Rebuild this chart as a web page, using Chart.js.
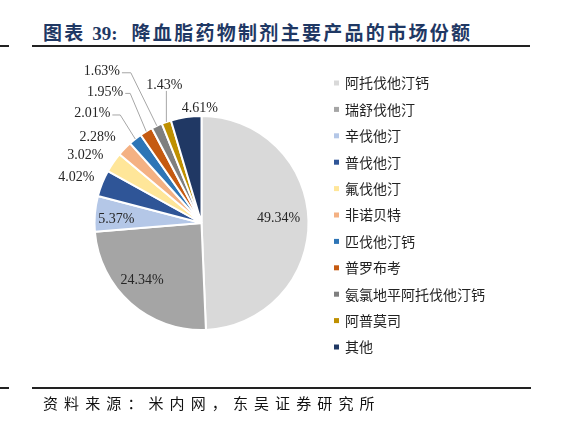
<!DOCTYPE html>
<html>
<head>
<meta charset="utf-8">
<script src="https://cdn.jsdelivr.net/npm/chart.js@4/dist/chart.umd.min.js"></script>
<style>
  body { margin: 0; background: #fff; width: 585px; height: 435px; position: relative; overflow: hidden; }
  #title { position: absolute; left: 43px; top: 18px; font: bold 19px "Noto Sans CJK SC", serif; color: #1f3864; letter-spacing: 2.3px; white-space: nowrap; }
  #title .num { font-family: "Liberation Serif", serif; letter-spacing: 0; margin-right: 14px; }
  .rule { position: absolute; height: 2px; background: #222; }
  #source { position: absolute; left: 43px; top: 392px; font: 15px "Noto Sans CJK SC", sans-serif; color: #111; letter-spacing: 6.1px; white-space: nowrap; }
  #wrap { position: absolute; left: 0; top: 0; width: 585px; height: 435px; }
</style>
</head>
<body>
<div id="title">图表 <span class="num">39:</span>降血脂药物制剂主要产品的市场份额</div>
<div class="rule" style="left:0;top:45px;width:9px"></div>
<div class="rule" style="left:32px;top:45px;width:498px"></div>
<div class="rule" style="left:0;top:387px;width:9px"></div>
<div class="rule" style="left:32px;top:387px;width:499px"></div>
<div id="wrap"><canvas id="myChart"></canvas></div>
<div id="source">资料来源：米内网，东吴证券研究所</div>
<script>
const products = ['阿托伐他汀钙', '瑞舒伐他汀', '辛伐他汀', '普伐他汀', '氟伐他汀', '非诺贝特',
  '匹伐他汀钙', '普罗布考', '氨氯地平阿托伐他汀钙', '阿普莫司', '其他'];
const shares = [49.34, 24.34, 5.37, 4.02, 3.02, 2.28, 2.01, 1.95, 1.63, 1.43, 4.61];
const colors = ['#d9d9d9', '#a5a5a5', '#b4c7e7', '#2f5597', '#ffe699', '#f4b183',
  '#2e75b6', '#c55a11', '#7f7f7f', '#bf9000', '#203864'];

// label placement: rf = radius factor of anchor, dx/dy = text offset from anchor,
// elbow = leader line bend relative to anchor (none = no leader)
const labelStyle = [
  { rf: 0.72, dx: 0, dy: -3 },
  { rf: 0.77, dx: -5, dy: -4 },
  { rf: 0.8, dx: 0, dy: 4 },
  { rf: 1.26, dx: 0, dy: 4 },
  { rf: 1.26, dx: -5, dy: 9 },
  { rf: 1.26, dx: -7, dy: 8 },
  { rf: 1.0, dx: -43, dy: -26, elbow: [-15, -24] },
  { rf: 1.0, dx: -41, dy: -39, elbow: [-16, -38] },
  { rf: 1.0, dx: -55, dy: -54, elbow: [-26, -53] },
  { rf: 1.0, dx: -2, dy: -37, elbow: [0, -31], vertical: true },
  { rf: 1.08, dx: 15, dy: 0 }
];

const pieLabels = {
  id: 'pieLabels',
  afterDatasetsDraw(chart) {
    const c = chart.ctx;
    const arcs = chart.getDatasetMeta(0).data;
    c.save();
    c.font = '14px "Liberation Serif", serif';
    c.textAlign = 'center';
    c.textBaseline = 'middle';
    arcs.forEach((arc, i) => {
      const p = arc.getProps(['x', 'y', 'startAngle', 'endAngle', 'outerRadius'], true);
      const mid = (p.startAngle + p.endAngle) / 2;
      const s = labelStyle[i];
      const ax = p.x + Math.cos(mid) * p.outerRadius * s.rf;
      const ay = p.y + Math.sin(mid) * p.outerRadius * s.rf;
      const tx = ax + s.dx, ty = ay + s.dy;
      const txt = shares[i].toFixed(2) + '%';
      if (s.elbow) {
        const w = c.measureText(txt).width;
        c.strokeStyle = '#a6a6a6';
        c.lineWidth = 1;
        c.beginPath();
        c.moveTo(ax, ay);
        c.lineTo(ax + s.elbow[0], ay + s.elbow[1]);
        if (!s.vertical) c.lineTo(tx + w / 2 + 2, ay + s.elbow[1]);
        c.stroke();
      }
      c.fillStyle = '#262626';
      c.fillText(txt, tx, ty);
    });
    c.restore();
  }
};

const sideLegend = {
  id: 'sideLegend',
  afterDraw(chart) {
    const c = chart.ctx;
    c.save();
    c.font = '14px "Noto Sans CJK SC", sans-serif';
    c.textBaseline = 'middle';
    c.textAlign = 'left';
    products.forEach((name, i) => {
      const y = 83 + i * 26.4;
      c.fillStyle = colors[i];
      c.fillRect(334, y - 2.5, 5, 5);
      c.fillStyle = '#222';
      c.fillText(name, 345, y);
    });
    c.restore();
  }
};

new Chart(document.getElementById('myChart'), {
  type: 'pie',
  data: {
    labels: products,
    datasets: [{
      data: shares,
      backgroundColor: colors,
      borderColor: '#ffffff',
      borderWidth: 2
    }]
  },
  options: {
    responsive: true,
    maintainAspectRatio: false,
    animation: false,
    layout: { padding: { left: 93, right: 275, top: 115, bottom: 104 } },
    plugins: {
      legend: { display: false },
      tooltip: { enabled: false }
    }
  },
  plugins: [pieLabels, sideLegend]
});
</script>
</body>
</html>
